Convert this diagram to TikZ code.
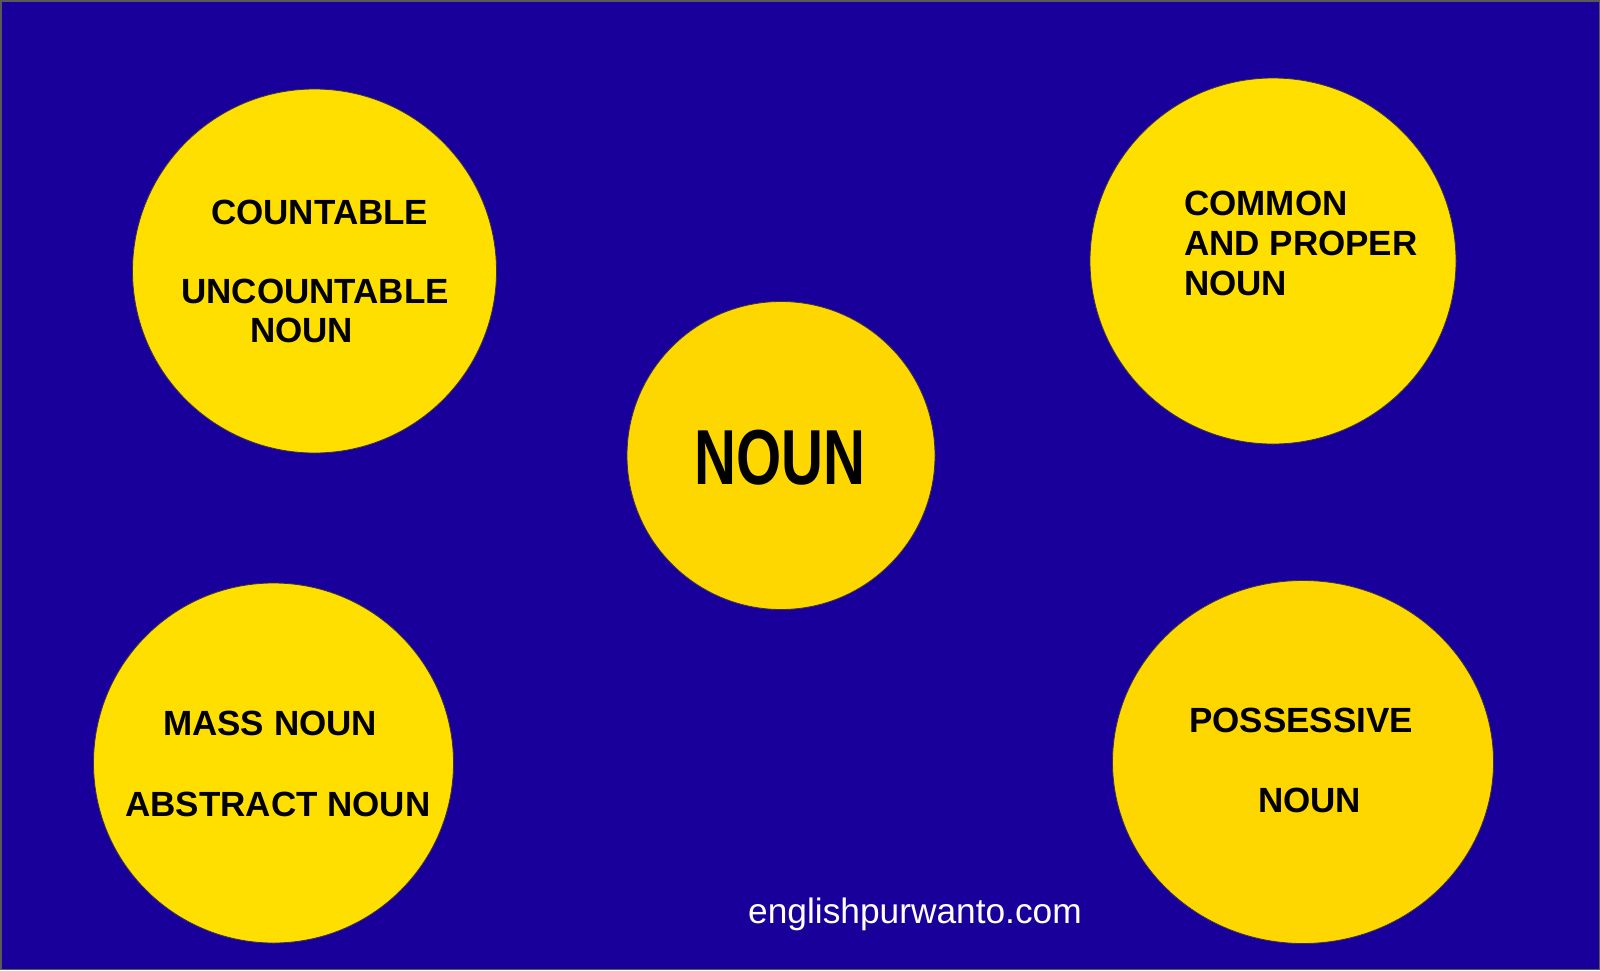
\documentclass[tikz,border=0pt]{standalone}
\usepackage{fontspec}
\usetikzlibrary{shapes.geometric}
\setmainfont{Liberation Sans}
\definecolor{bgblue}{RGB}{25,0,155}
\definecolor{yelA}{RGB}{255,223,0}
\definecolor{yelB}{RGB}{255,215,0}
\definecolor{rimcol}{RGB}{60,50,70}
\begin{document}
\begin{tikzpicture}[x=1pt,y=-1pt,
  disc/.style={circle,fill=yelA,draw=rimcol,line width=0.8pt,inner sep=0pt,minimum size=#1},
  lbl/.style={anchor=base west,inner sep=0pt,text=black,font=\fontsize{35}{40}\selectfont\bfseries},
  web/.style={anchor=base west,inner sep=0pt,text=white,font=\fontsize{35.3}{40}\selectfont}]
\useasboundingbox (0,0) rectangle (1600,970);
\fill[bgblue] (0,0) rectangle (1600,970);
\draw[gray!70!black,line width=1.5pt] (0.75,0.75) rectangle (1599.25,969.25);
% circles
\node[disc=364pt] (c1) at (314.5,271) {};
\node[disc=366pt] (c2) at (1273,261) {};
\node[disc=308pt,fill=yelB] (c0) at (781,455.5) {};
\node[disc=360pt] (c3) at (273.5,763) {};
\node[ellipse,fill=yelB,draw=rimcol,line width=0.8pt,inner sep=0pt,minimum width=381pt,minimum height=363pt] (c4) at (1303,762) {};
% texts
\node[lbl] (t1a) at (211,224) {COUNTABLE};
\node[lbl] (t1b) at (181,303) {UNCOUNTABLE};
\node[lbl] (t1c) at (250,342) {NOUN};
\node[lbl] (t2a) at (1184,215) {COMMON};
\node[lbl] (t2b) at (1184,255) {AND PROPER};
\node[lbl] (t2c) at (1184,295) {NOUN};
\node[anchor=base west,inner sep=0pt,font=\fontsize{78}{90}\selectfont\bfseries] (t0) at (694,484) {\scalebox{0.745}[1]{NOUN}};
\node[lbl] (t3a) at (163,735) {MASS NOUN};
\node[lbl] (t3b) at (125,816) {ABSTRACT NOUN};
\node[lbl] (t4a) at (1189,732) {POSSESSIVE};
\node[lbl] (t4b) at (1258,812) {NOUN};
\node[web] (w) at (748,923) {englishpurwanto.com};
\end{tikzpicture}
\end{document}
